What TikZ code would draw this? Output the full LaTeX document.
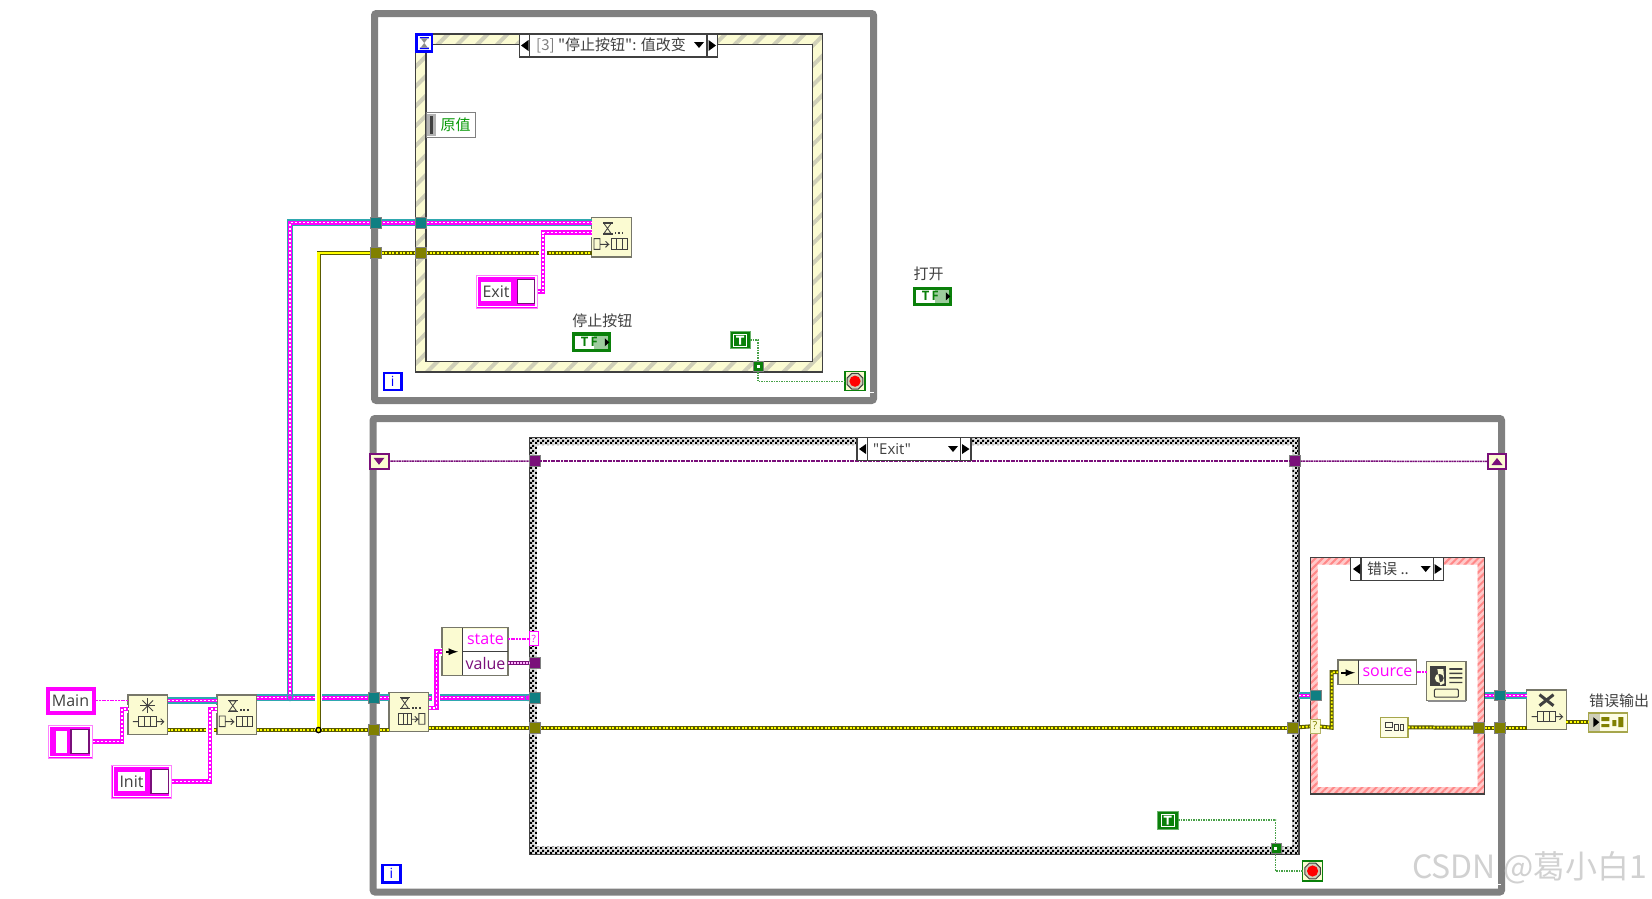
\documentclass[tikz,border=0pt]{standalone}
\usepackage{fontspec}
\setmainfont{Open Sans}
\newfontfamily\cjk{Noto Sans CJK SC}
\newfontfamily\lvplain{Open Sans}
\usetikzlibrary{patterns,patterns.meta,calc,shapes.geometric}
\definecolor{lvgray}{HTML}{808080}
\definecolor{lvcream}{HTML}{FBFBD2}
\definecolor{lvedge}{HTML}{77776A}
\definecolor{lvteal}{HTML}{0F7F82}
\definecolor{lvwire}{HTML}{2FA8B0}
\definecolor{lvmag}{HTML}{FF00FF}
\definecolor{lvolive}{HTML}{808000}
\definecolor{lvdark}{HTML}{5A5A00}
\definecolor{lvyellow}{HTML}{FFFF00}
\definecolor{lvpurple}{HTML}{7A0F7A}
\definecolor{lvgreen}{HTML}{0A800A}
\definecolor{lvink}{HTML}{404040}
\definecolor{lvstripe}{HTML}{CFCFB8}
\definecolor{lvredge}{HTML}{FF8888}
\pgfdeclarepatternformonly{lvchk}{\pgfqpoint{0pt}{0pt}}{\pgfqpoint{5pt}{5pt}}{\pgfqpoint{5pt}{5pt}}{%
  \pgfpathrectangle{\pgfqpoint{0pt}{0pt}}{\pgfqpoint{2.5pt}{2.5pt}}%
  \pgfpathrectangle{\pgfqpoint{2.5pt}{2.5pt}}{\pgfqpoint{2.5pt}{2.5pt}}%
  \pgfusepath{fill}}
\newcommand{\lvblk}[7]{%
  \pgfmathsetmacro\lvw{#4-#2}\pgfmathsetmacro\lvh{#5-#3}%
  \pgfmathsetmacro\lvx{(#2+#4)/2}\pgfmathsetmacro\lvy{(#3+#5)/2}%
  \node[#6,minimum width=\lvw pt,minimum height=\lvh pt,inner sep=0pt,outer sep=0pt] (#1) at (\lvx,\lvy) {#7};}
\newcommand{\lvtun}[4]{\node[#4] (#1) at (#2,#3) {};}
% wires
\newcommand{\qwire}[1]{%
  \draw[lvwire,line width=6.6pt] #1;
  \draw[lvmag,line width=3.6pt] #1;
  \draw[white,line width=1.4pt,dash pattern=on 2pt off 2pt] #1;}
\newcommand{\pwire}[1]{%
  \draw[white,line width=8pt] #1;
  \draw[lvmag,line width=4.5pt] #1;
  \draw[white,line width=1.4pt,dash pattern=on 2pt off 2pt] #1;}
\newcommand{\ewire}[1]{%
  \draw[lvdark,line width=4pt] #1;
  \draw[lvyellow,line width=1.8pt,dash pattern=on 2pt off 1.6pt] #1;}
\newcommand{\ewirev}[1]{%
  \draw[white,line width=7.5pt] #1;
  \draw[lvdark,line width=4pt] #1;
  \draw[lvyellow,line width=2.2pt] #1;}
\newcommand{\hglass}[1]{%
  \begin{scope}[shift={(#1)}]
    \fill[lvink] (-5,-6) rectangle (5,-4.8);
    \fill[lvink] (-5,5) rectangle (5,6.2);
    \draw[lvink,line width=.8pt] (-3.5,-4.8)--(3.5,-4.8)--(0,0)--cycle;
    \draw[lvink,line width=.8pt] (-3.5,5)--(3.5,5)--(0,0)--cycle;
    \foreach \d in {8,11.5,15}{\fill[lvink] (\d-.9,3.8) rectangle (\d+.9,5.6);}
  \end{scope}}
\newcommand{\qbox}[5]{% center, x0,x1,y0,y1
  \begin{scope}[shift={(#1)}]
    \pgfmathsetmacro\qa{#2+(#3-#2)/3}\pgfmathsetmacro\qb{#2+2*(#3-#2)/3}
    \draw[lvink,line width=.9pt] (#2,#4) rectangle (#3,#5) (\qa,#4)--(\qa,#5) (\qb,#4)--(\qb,#5);
  \end{scope}}
\newcommand{\tfterm}[1]{%
  \begin{scope}[shift={(#1)}]
    \fill[lvgreen] (-19.6,-9.7) rectangle (19.6,9.7);
    \fill[white] (-16.5,-6.5) rectangle (17,6.5);
    \fill[lvgreen!40] (3,-6.5) rectangle (17,6.5);
    \node[inner sep=0pt,text=lvgreen,font=\fontsize{13}{13}\selectfont\bfseries] at (-2,0) {T\,F};
    \fill[black] (13.5,-4)--(18,0)--(13.5,4)--cycle;
  \end{scope}}
\newcommand{\tconst}[1]{%
  \begin{scope}[shift={(#1)}]
    \draw[white,line width=1pt] (-6.5,-6) rectangle (6.5,6);
    \fill[white] (-4,-4.5) rectangle (4,-2.5) (-1,-3) rectangle (1,4.5);
  \end{scope}}
\newcommand{\stopsign}[1]{%
  \begin{scope}[shift={(#1)}]
    \node[regular polygon,regular polygon sides=8,draw=lvink,fill=lvstripe,line width=1pt,minimum size=17pt,inner sep=0pt] at (0,0) {};
    \fill[red] (0,0) circle (5.6pt);
  \end{scope}}
\newcommand{\ringed}[1]{%
  \draw[white,line width=1.2pt] ($(#1.north west)+(1.6,1.6)$) rectangle ($(#1.south east)+(-1.6,-1.6)$);}
\tikzset{
  loopframe/.style={draw=lvgray,line width=7pt,rounded corners=2pt},
  vi/.style={draw=lvedge,fill=lvcream,line width=1.2pt},
  tunteal/.style={fill=lvteal,draw=lvgray,line width=.6pt,minimum size=10.5pt,inner sep=0pt},
  tunolive/.style={fill=lvolive,draw=lvgray,line width=.6pt,minimum size=10.5pt,inner sep=0pt},
  tunpurple/.style={fill=lvpurple,draw=lvgray,line width=.6pt,minimum size=10.5pt,inner sep=0pt},
  tungreen/.style={fill=lvgreen,draw=lvgray,line width=.6pt,minimum size=10pt,inner sep=0pt},
  sel/.style={draw=lvink,fill=white,line width=1.2pt},
  tconstbox/.style={fill=lvgreen,draw=lvgreen!60,line width=1pt},
  stopbox/.style={fill=lvcream,draw=lvgreen,line width=1.2pt},
  iter/.style={draw=blue,fill=white,line width=2.4pt},
  gwire/.style={draw=lvgreen!75!white,line width=1.2pt,dash pattern=on 1.5pt off 1pt},
  swire/.style={draw=lvmag,line width=1.6pt,dash pattern=on 2pt off .7pt},
  pwirethin/.style={draw=lvpurple,line width=1.5pt,dash pattern=on 2pt off .6pt},
  vwire/.style={draw=lvpurple,line width=4.5pt},
  lab/.style={inner sep=0pt,font=\fontsize{16}{16}\selectfont,text=lvink},
  zh/.style={inner sep=0pt,font=\cjk\fontsize{15}{15}\selectfont,text=lvink},
  magtxt/.style={inner sep=0pt,font=\fontsize{16}{16}\selectfont,text=lvmag},
  prptxt/.style={inner sep=0pt,font=\fontsize{16}{16}\selectfont,text=lvpurple},
}
\begin{document}
\begin{tikzpicture}[x=1pt,y=-1pt]
\useasboundingbox (0,0) rectangle (1652,898);
\fill[white] (0,0) rectangle (1652,898);

% while loops
\lvblk{loopT}{374.5}{13.5}{873.5}{400.5}{loopframe}{}
\lvblk{loopB}{373.2}{418.5}{1501.5}{892}{loopframe}{}
\draw[white,line width=1pt] (868,392.5)--(873.5,392.5) (1494,884)--(1501,884);

% event structure frame
\fill[even odd rule,fill=lvcream] (415.7,34) rectangle (822.3,372) (426,44.3) rectangle (812.3,361.7);
\fill[even odd rule,pattern={Lines[angle=45,distance=14pt,line width=4pt]},pattern color=lvstripe] (415.7,34) rectangle (822.3,372) (426,44.3) rectangle (812.3,361.7);
\draw[lvink,line width=1.2pt] (415.7,34) rectangle (822.3,372) (426,44.3) rectangle (812.3,361.7);

% case structure frame
\fill[even odd rule,fill=black!12] (529.6,437.7) rectangle (1299,854.3) (536.8,445) rectangle (1292.3,846.7);
\fill[even odd rule,pattern=lvchk,pattern color=black] (529.6,437.7) rectangle (1299,854.3) (536.8,445) rectangle (1292.3,846.7);
\draw[lvink,line width=1.4pt] (529.6,437.7) rectangle (1299,854.3);

% error case frame
\fill[even odd rule,fill=lvredge!45] (1310.7,557.7) rectangle (1484.7,794) (1317.7,564.7) rectangle (1477.7,787);
\fill[even odd rule,pattern={Lines[angle=45,distance=5pt,line width=2pt]},pattern color=lvredge] (1310.7,557.7) rectangle (1484.7,794) (1317.7,564.7) rectangle (1477.7,787);
\draw[lvink,line width=1.2pt] (1310.7,557.7) rectangle (1484.7,794);

% tunnels and shift registers
\lvtun{tA}{376}{222.7}{tunteal}
\lvtun{tB}{420.7}{222.7}{tunteal}
\lvtun{tC}{376}{252.7}{tunolive}
\lvtun{tD}{420.7}{252.7}{tunolive}
\lvtun{bA}{374}{697.7}{tunteal}
\lvtun{bB}{374}{730}{tunolive}
\lvtun{cA}{534.6}{697.7}{tunteal}
\lvtun{cB}{534.6}{727.7}{tunolive}
\lvtun{cV}{534.6}{663}{tunpurple}
\lvtun{pL}{534.7}{461}{tunpurple}
\lvtun{pR}{1295}{461}{tunpurple}
\lvtun{dT}{1293}{727.7}{tunolive}
\lvtun{eT}{1316}{695.3}{tunteal}
\lvtun{eR}{1479}{727.7}{tunolive}
\lvtun{fT}{1499.7}{695.3}{tunteal}
\lvtun{fO}{1499.7}{727.7}{tunolive}
\lvtun{gT}{758}{366.7}{tungreen}
\lvtun{gB}{1275.8}{848.7}{tungreen}

% functions
\lvblk{obtain}{128}{695}{167.5}{734.3}{vi}{}
\lvblk{enqA}{217}{695}{256.5}{734.3}{vi}{}
\lvblk{deq}{389}{692.7}{428.6}{731.7}{vi}{}
\lvblk{enqB}{591.7}{217.7}{631.3}{257}{vi}{}
\lvblk{rel}{1526.7}{690}{1566.3}{729.3}{vi}{}
\lvblk{card}{1426.7}{661.7}{1466}{700.7}{vi}{}
\lvblk{unb}{442}{627.7}{508}{675.3}{vi}{}
\lvblk{unbB}{1338}{660}{1416.7}{684.3}{vi}{}

% constants and terminals
\lvblk{main}{47.5}{688.5}{93.5}{712.5}{draw=lvmag,fill=white,line width=4pt}{\fontsize{16}{16}\selectfont\textcolor{lvink}{Main}}
\lvblk{arr}{48}{725}{92.5}{758.3}{draw=lvmag!50,fill=lvmag,line width=1pt}{}
\lvblk{init}{111.5}{765}{171.5}{798.3}{draw=lvmag!50,fill=lvmag,line width=1pt}{}
\lvblk{exit}{476}{275}{537.6}{308.3}{draw=lvmag!50,fill=lvmag,line width=1pt}{}
\ringed{arr}\ringed{init}\ringed{exit}
\lvblk{stopT}{571.6}{332.3}{611}{352.3}{fill=lvgreen}{}
\lvblk{openT}{912.7}{286.7}{952}{306}{fill=lvgreen}{}
\lvblk{tA1}{730}{331.3}{750}{348.7}{tconstbox}{}
\lvblk{tB1}{1157.3}{811}{1178}{829}{tconstbox}{}
\lvblk{stA}{845}{371.7}{865}{390.7}{stopbox}{}
\lvblk{stB}{1302.6}{861}{1322.6}{881}{stopbox}{}
\lvblk{iterA}{384}{372.7}{401.4}{390}{iter}{\fontsize{14}{14}\selectfont\textcolor{blue}{i}}
\lvblk{iterB}{382.4}{865}{400.4}{882.3}{iter}{\fontsize{14}{14}\selectfont\textcolor{blue}{i}}
\lvblk{errC}{1380.3}{717.3}{1408}{737.3}{draw=lvolive!70,fill=lvcream!60,line width=1.6pt}{}
\lvblk{errI}{1588.3}{712.7}{1627.3}{731.7}{draw=lvolive!70,fill=lvcream!60,line width=1.6pt}{}
\lvblk{srL}{369.5}{453.5}{388.5}{469}{draw=lvpurple,fill=lvcream,line width=2pt}{}
\lvblk{srR}{1488}{454}{1506}{469}{draw=lvpurple,fill=lvcream,line width=2pt}{}
\lvblk{qA}{529.6}{631.7}{538}{645.7}{draw=lvmag,fill=white,line width=1pt}{\fontsize{10}{10}\selectfont\textcolor{lvmag}{?}}
\lvblk{qB}{1310}{719}{1320}{733}{draw=lvolive!60,fill=lvcream,line width=1pt}{\fontsize{11}{11}\selectfont\textcolor{lvolive}{?}}
\lvblk{orig}{426}{112.7}{475}{137}{draw=lvgray,fill=white,line width=1pt}{}
\lvblk{hgl}{416.5}{34.5}{432}{51.5}{draw=blue,fill=white,line width=2.4pt}{}

% wires: error
\ewire{(obtain.east |- bB) -- (enqA.west |- bB)}
\ewire{(enqA.east |- bB) -- (bB)}
\ewire{(bB) -- (deq.west |- bB)}
\ewire{(deq.east |- cB) -- (cB)}
\ewire{(cB) -- (dT)}
\ewire{(dT) -- (qB)}
\ewire{(errC) -- (eR)}
\ewire{(eR) -- (fO)}
\ewire{(fO) -- (rel.west |- fO)}
\ewire{(rel.east |- errI) -- (errI)}
\ewire{(tC) -- (tD)}
\ewire{(tD) -- (enqB.west |- tD)}
\coordinate (bend) at (1331.7,727.7);
\ewire{(qB) -- (bend) |- (unbB.west)}
% wires: queue reference
\qwire{(obtain.east |- main) -- (enqA.west |- main)}
\qwire{(enqA.east |- bA) -- (bA)}
\qwire{(bA) -- (deq.west |- bA)}
\qwire{(deq.east |- cA) -- (cA)}
\coordinate (bpink) at (290,697.7);
\qwire{(bpink) |- (enqB.west |- tA)}
\coordinate (wall) at (1299,695.3);
\qwire{(wall) -- (eT)}
\coordinate (wallR) at (1484.7,695.3);
\qwire{(wallR) -- (rel.west |- fT)}
% error branch over the reference wire
\coordinate (byel) at (318.5,730);
\ewirev{(byel) |- ([xshift=-.1pt]tC.west)}
\fill[lvyellow,draw=black,line width=1.4pt] (byel) circle (2.6pt);
\fill[lvmag,draw=lvwire,line width=1pt] (bpink) circle (3pt);
\fill[lvmag,draw=lvwire,line width=1pt] (528,697.7) circle (3pt);
% wires: strings and clusters
\draw[swire] (main.east) -- (obtain.west |- main.east);
\coordinate (arrUp) at (122,709);
\pwire{(arr.east) -| (arrUp) -- (obtain.west |- arrUp)}
\coordinate (initUp) at (210,709);
\pwire{(init.east) -| (initUp) -- (enqA.west |- initUp)}
\coordinate (exitUp) at (543,232.7);
\pwire{(exit.east) -| (exitUp) -- (enqB.west |- exitUp)}
\coordinate (deqOut) at (436.4,708);
\coordinate (unbIn) at (442,651.7);
\pwire{(deq.east |- deqOut) -- (deqOut) |- (unbIn)}
\draw[swire] (unb.east |- qA) -- (qA);
\draw[vwire] (unb.east |- cV) -- (cV);
\draw[lvmag!30!white,line width=1.2pt,dash pattern=on 1.5pt off 1.5pt] (unb.east |- cV) -- (cV);
\draw[swire] (unbB.east) -- (card.west |- unbB.east);
% wires: loop state
\draw[pwirethin] (srL) -- (pL);
\draw[pwirethin] (pL) -- (pR);
\draw[pwirethin] (pR) -- (srR);
% wires: stop
\draw[gwire] (tA1.east) -| (gT);
\draw[gwire] (gT) |- (stA.west);
\draw[gwire] (tB1.east) -| (gB);
\draw[gwire] (gB) |- (stB.west);

% redraw the tunnels crossed by wires
\foreach \t/\c in {tA/teal,tB/teal,bA/teal,cA/teal,eT/teal,fT/teal,tC/olive,tD/olive,bB/olive,cB/olive,dT/olive,eR/olive,fO/olive,gT/green,gB/green}{%
  \node[tun\c] at (\t) {};}
\fill[white] (gT.center) ++(-1.5,-1.5) rectangle ++(3,3);
\fill[white] (gB.center) ++(-1.5,-1.5) rectangle ++(3,3);

% selectors
\lvblk{selA}{519.3}{34}{717.3}{57}{sel}{}
\draw[lvink,line width=1.2pt] (529.7,34)--(529.7,57) (707,34)--(707,57);
\fill[black] (521,45.5)--(528.5,40)--(528.5,51)--cycle (716,45.5)--(708.5,40)--(708.5,51)--cycle;
\fill[black] (694,42)--(704,42)--(699,48)--cycle;
\node[anchor=west,inner sep=0pt,font=\cjk\fontsize{15}{15}\selectfont,text=lvink] (selAt) at (536,45.5) {\textcolor{lvgray}{[3]} "停止按钮": 值改变};
\lvblk{selB}{857}{437.7}{971}{460.7}{sel}{}
\draw[lvink,line width=1.2pt] (867.3,437.7)--(867.3,460.7) (960.8,437.7)--(960.8,460.7);
\fill[black] (859,449)--(866,444)--(866,454)--cycle (969.5,449)--(962,444)--(962,454)--cycle;
\fill[black] (948,446)--(958,446)--(953,452)--cycle;
\node[anchor=west,inner sep=0pt,font=\lvplain\fontsize{15}{15}\selectfont,text=lvink] (selBt) at (873,449) {"Exit"};
\lvblk{selC}{1350.7}{557.7}{1443.3}{580.7}{sel}{}
\draw[lvink,line width=1.2pt] (1361,557.7)--(1361,580.7) (1433.3,557.7)--(1433.3,580.7);
\fill[black] (1353,569)--(1360,564)--(1360,574)--cycle (1442,569)--(1434.5,564)--(1434.5,574)--cycle;
\fill[black] (1420.7,566)--(1430.7,566)--(1425.7,572)--cycle;
\node[anchor=west,inner sep=0pt,font=\cjk\fontsize{15}{15}\selectfont,text=lvink] (selCt) at (1367,569) {错误 ..};

% hourglass of the event structure
\begin{scope}[shift={(hgl.center)}]
  \fill[blue] (-4.5,-6) rectangle (4.5,-4.6) (-4.5,4.6) rectangle (4.5,6);
  \fill[lvink!60] (-3.5,-4.6)--(3.5,-4.6)--(0,0)--cycle (-3.5,4.6)--(3.5,4.6)--(0,0)--cycle;
\end{scope}

% icons: queue functions
\begin{scope}[shift={(obtain.center)}]
  \foreach \a in {0,45,...,315}{\draw[lvink,line width=.9pt] (0,-9) -- ++(\a:7.5);}
  \draw[lvink,line width=.9pt] (-15,7)--(-9,7) (9,7)--(16,7) (13,4)--(16,7)--(13,10);
\end{scope}
\qbox{obtain.center}{-9}{9}{2}{12}
\hglass{$(enqA.center)+(-4,-9)$}
\draw[lvink,line width=.9pt] ($(enqA.center)+(-17.5,1.3)$) rectangle ($(enqA.center)+(-11.5,12)$) ($(enqA.center)+(-11.5,7)$) -- ($(enqA.center)+(-3,7)$) -- ++(-3,-3) ($(enqA.center)+(-3,7)$) -- ++(-3,3);
\qbox{enqA.center}{0}{16}{1.3}{12}
\hglass{$(enqB.center)+(-4,-9)$}
\draw[lvink,line width=.9pt] ($(enqB.center)+(-17.5,1.3)$) rectangle ($(enqB.center)+(-11.5,12)$) ($(enqB.center)+(-11.5,7)$) -- ($(enqB.center)+(-3,7)$) -- ++(-3,-3) ($(enqB.center)+(-3,7)$) -- ++(-3,3);
\qbox{enqB.center}{0}{16}{1.3}{12}
\hglass{$(deq.center)+(-4,-9)$}
\qbox{deq.center}{-10}{3}{1.3}{12}
\draw[lvink,line width=.9pt] ($(deq.center)+(10,1.3)$) rectangle ($(deq.center)+(16,12)$) ($(deq.center)+(3,7)$) -- ($(deq.center)+(9,7)$) -- ++(-3,-3) ($(deq.center)+(9,7)$) -- ++(-3,3);
\draw[lvink,line width=3pt] ($(rel.center)+(-7,-15)$) -- ($(rel.center)+(7,-4)$) ($(rel.center)+(7,-15)$) -- ($(rel.center)+(-7,-4)$);
\draw[lvink,line width=.9pt] ($(rel.center)+(-15,7)$) -- ($(rel.center)+(-9,7)$) ($(rel.center)+(9,7)$) -- ($(rel.center)+(16,7)$) -- ++(-3,-3) ($(rel.center)+(16,7)$) -- ++(-3,3);
\qbox{rel.center}{-9}{9}{2}{12}

% unbundle contents
\fill[lvcream] (443,629)rectangle(461.5,674);
\fill[white] (463,628.5) rectangle (507.4,674.7);
\draw[lvink,line width=1pt] (462.5,627.7)--(462.5,675.3) (462.5,651.7)--(508,651.7);
\draw[black,line width=2.2pt,-latex] (446,651.7) -- (458,651.7);
\node[magtxt] (tstate) at (485.5,639.5) {state};
\node[prptxt] (tvalue) at (485.5,663) {value};
\fill[white] (1359,661) rectangle (1416,683.6);
\draw[lvink,line width=1pt] (1358,660)--(1358,684.3);
\draw[black,line width=2.2pt,-latex] (1341,672.7) -- (1355,672.7);
\node[magtxt] (tsource) at (1387.5,672.5) {source};

% id card icon
\begin{scope}[shift={(card.center)}]
  \fill[lvink!60] (-18,19) rectangle (20,21);
  \fill[lvink] (-16,-15) rectangle (0,5);
  \fill[lvcream] (-7,-3) circle (4.5pt) (-9,-12)--(-3,-12)--(-2,2)--(-6,4)--cycle;
  \fill[lvink] (3,-13) rectangle (16,-11.4) (3,-8.6) rectangle (16,-7) (3,-4) rectangle (16,-2.6) (3,.6) rectangle (16,2);
  \draw[lvink,line width=1pt,rounded corners=1pt] (-12,8) rectangle (12,16);
\end{scope}

% cluster constants
\fill[white] ($(arr.west)+(7.5,-11)$) rectangle ($(arr.west)+(19,11)$);
\draw[lvpurple,fill=white,line width=1.1pt] ($(arr.west)+(23,-12)$) rectangle ($(arr.west)+(41,12)$);
\node[anchor=center,inner sep=2pt,fill=white,minimum width=26pt,minimum height=19pt,font=\fontsize{16}{16}\selectfont,text=lvink] (tinit) at ($(init.west)+(20,0)$) {Init};
\draw[lvpurple,fill=white,line width=1.1pt] ($(init.east)+(-20.5,-12)$) rectangle ($(init.east)+(-3,12)$);
\node[anchor=center,inner sep=2pt,fill=white,minimum width=26pt,minimum height=19pt,font=\fontsize{16}{16}\selectfont,text=lvink] (texit) at ($(exit.west)+(20,0)$) {Exit};
\draw[lvpurple,fill=white,line width=1.1pt] ($(exit.east)+(-20.5,-12)$) rectangle ($(exit.east)+(-3,12)$);

% tf terminals
\tfterm{stopT.center}
\tfterm{openT.center}
\tconst{tA1.center}
\tconst{tB1.center}
\stopsign{stA.center}
\stopsign{stB.center}
\fill[lvpurple] ($(srL.center)+(-5.5,-3.5)$)--($(srL.center)+(5.5,-3.5)$)--($(srL.center)+(0,3.5)$)--cycle;
\fill[lvpurple] ($(srR.center)+(-5.5,3.5)$)--($(srR.center)+(5.5,3.5)$)--($(srR.center)+(0,-3.5)$)--cycle;

% original-value node
\fill[lvgray!60] (427,113.5) rectangle (435.5,136.4);
\fill[lvink] (430,116) rectangle (433,134);
\node[inner sep=0pt,font=\cjk\fontsize{15}{15}\selectfont,text=lvgreen!80!green] (torig) at (455.5,124.5) {原值};

% error constant and indicator
\draw[lvink,line width=.9pt] ($(errC.center)+(-9,-5)$) rectangle ($(errC.center)+(-2,0)$) ($(errC.center)+(0,-3)$) rectangle ($(errC.center)+(4,3)$) ($(errC.center)+(6,-3)$) rectangle ($(errC.center)+(9,3)$) ($(errC.center)+(-9,3)$) -- ($(errC.center)+(-2,3)$);
\fill[lvstripe] ($(errI.west)+(.8,-8.5)$) rectangle ($(errI.west)+(12,8.5)$);
\fill[black] ($(errI.west)+(5,-5)$)--($(errI.west)+(11,0)$)--($(errI.west)+(5,5)$)--cycle;
\fill[lvolive] ($(errI.west)+(13,-5)$) rectangle ($(errI.west)+(21,-1)$) ($(errI.west)+(13,2)$) rectangle ($(errI.west)+(21,5)$) ($(errI.west)+(24,-2)$) rectangle ($(errI.west)+(28,4)$) ($(errI.west)+(30,-5)$) rectangle ($(errI.west)+(35,5)$);

% labels
\node[zh] (lstop) at (602.4,320.7) {停止按钮};
\node[zh] (lopen) at (928.5,274) {打开};
\node[zh] (lerr) at (1619,701) {错误输出};

% watermark
\node[inner sep=0pt,anchor=west,font=\cjk\fontsize{32}{32}\selectfont,text=black!18] (wm) at (1412,868) {CSDN @葛小白1};
\end{tikzpicture}
\end{document}
